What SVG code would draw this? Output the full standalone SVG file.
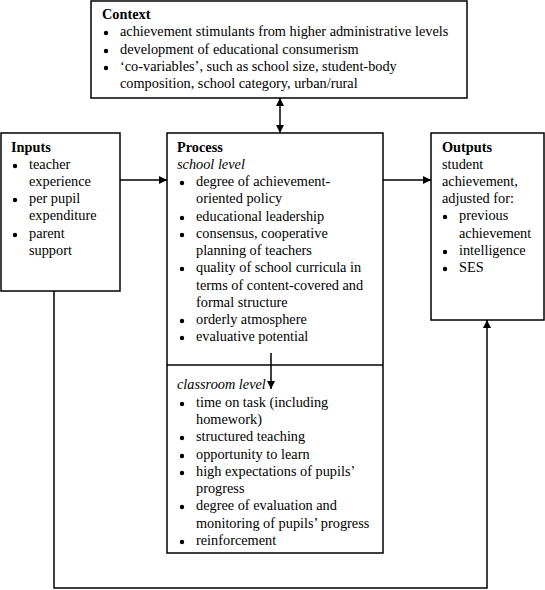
<svg xmlns="http://www.w3.org/2000/svg" width="545" height="590" viewBox="0 0 545 590">
<style>
text{font-family:"Liberation Serif","Times New Roman",serif;font-size:14.3px;fill:#000}
.b{font-weight:bold}
.i{font-style:italic}
.box{fill:#fff;stroke:#000;stroke-width:1.5}
.ln{fill:none;stroke:#000;stroke-width:1.5}
.dot{fill:#000}
</style>
<defs>
<marker id="ah" viewBox="0 0 10 10" refX="10" refY="5" markerWidth="8" markerHeight="8" markerUnits="userSpaceOnUse" orient="auto-start-reverse">
<path d="M0,0 L10,5 L0,10 z" fill="#000"/>
</marker>
</defs>
<rect width="545" height="590" fill="#fff"/>
<g id="context">
<rect class="box" x="91" y="1" width="376" height="97"/>
<text class="b" x="102" y="19">Context</text>
<circle class="dot" cx="106" cy="33" r="2.2"/><text x="120" y="36">achievement stimulants from higher administrative levels</text>
<circle class="dot" cx="106" cy="51" r="2.2"/><text x="120" y="54">development of educational consumerism</text>
<circle class="dot" cx="106" cy="68" r="2.2"/><text x="120" y="71">‘co-variables’, such as school size, student-body</text>
<text x="120" y="88">composition, school category, urban/rural</text>
</g>
<g id="inputs">
<rect class="box" x="1" y="133" width="119" height="158"/>
<text class="b" x="11" y="152">Inputs</text>
<circle class="dot" cx="15" cy="166" r="2.2"/><text x="29" y="169">teacher</text>
<text x="29" y="186">experience</text>
<circle class="dot" cx="15" cy="200" r="2.2"/><text x="29" y="203">per pupil</text>
<text x="29" y="220">expenditure</text>
<circle class="dot" cx="15" cy="235" r="2.2"/><text x="29" y="238">parent</text>
<text x="29" y="255">support</text>
</g>
<g id="process">
<rect class="box" x="167" y="133" width="216" height="420"/>
<line class="ln" x1="167" y1="365" x2="383" y2="365"/>
<text class="b" x="177" y="152">Process</text>
<text class="i" x="177" y="169">school level</text>
<circle class="dot" cx="182" cy="183" r="2.2"/><text x="196" y="186">degree of achievement-</text>
<text x="196" y="203">oriented policy</text>
<circle class="dot" cx="182" cy="218" r="2.2"/><text x="196" y="221">educational leadership</text>
<circle class="dot" cx="182" cy="235" r="2.2"/><text x="196" y="238">consensus, cooperative</text>
<text x="196" y="255">planning of teachers</text>
<circle class="dot" cx="182" cy="269" r="2.2"/><text x="196" y="272">quality of school curricula in</text>
<text x="196" y="290">terms of content-covered and</text>
<text x="196" y="307">formal structure</text>
<circle class="dot" cx="182" cy="321" r="2.2"/><text x="196" y="324">orderly atmosphere</text>
<circle class="dot" cx="182" cy="338" r="2.2"/><text x="196" y="341">evaluative potential</text>
<text class="i" x="177" y="389">classroom level</text>
<circle class="dot" cx="182" cy="404" r="2.2"/><text x="196" y="407">time on task (including</text>
<text x="196" y="424">homework)</text>
<circle class="dot" cx="182" cy="438" r="2.2"/><text x="196" y="441">structured teaching</text>
<circle class="dot" cx="182" cy="456" r="2.2"/><text x="196" y="459">opportunity to learn</text>
<circle class="dot" cx="182" cy="473" r="2.2"/><text x="196" y="476">high expectations of pupils’</text>
<text x="196" y="493">progress</text>
<circle class="dot" cx="182" cy="507" r="2.2"/><text x="196" y="510">degree of evaluation and</text>
<text x="196" y="528">monitoring of pupils’ progress</text>
<circle class="dot" cx="182" cy="542" r="2.2"/><text x="196" y="545">reinforcement</text>
</g>
<g id="outputs">
<rect class="box" x="431" y="133" width="113" height="187"/>
<text class="b" x="442" y="152">Outputs</text>
<text x="442" y="169">student</text>
<text x="442" y="186">achievement,</text>
<text x="442" y="203">adjusted for:</text>
<circle class="dot" cx="445" cy="217" r="2.2"/><text x="459" y="220">previous</text>
<text x="459" y="238">achievement</text>
<circle class="dot" cx="445" cy="252" r="2.2"/><text x="459" y="255">intelligence</text>
<circle class="dot" cx="445" cy="269" r="2.2"/><text x="459" y="272">SES</text>
</g>
<g id="connectors">
<line class="ln" x1="280" y1="98" x2="280" y2="133" marker-start="url(#ah)" marker-end="url(#ah)"/>
<line class="ln" x1="120" y1="180" x2="167" y2="180" marker-end="url(#ah)"/>
<line class="ln" x1="383" y1="180" x2="431" y2="180" marker-end="url(#ah)"/>
<line class="ln" x1="271" y1="353" x2="271" y2="389" marker-end="url(#ah)"/>
<polyline class="ln" points="54,291 54,588 487,588 487,320" marker-end="url(#ah)"/>
</g>
</svg>
